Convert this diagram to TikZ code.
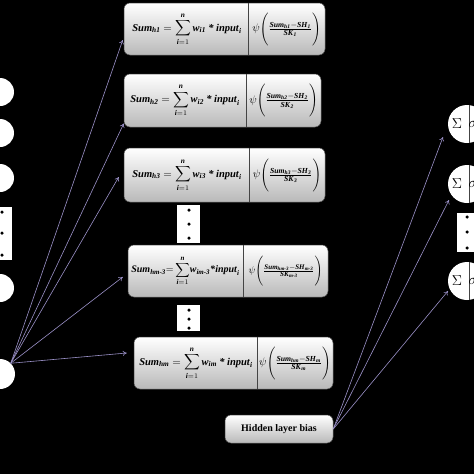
\documentclass[tikz,border=0pt]{standalone}
\usepackage{amsmath}
\usepackage{fontspec}
\setmainfont{Liberation Serif}
\usetikzlibrary{arrows.meta}
\newcommand{\bi}[1]{\textbf{\textit{#1}}}
\newcommand{\lformula}[2]{$\displaystyle\bi{Sum}_{\bi{#1}}=\sum_{\bi{i}=1}^{\bi{n}}\bi{w}_{\bi{#2}}\mathbin{\bi{*}}\bi{input}_{\bi{i}}$}
\newcommand{\lformulatight}[2]{$\displaystyle\bi{Sum}_{\bi{#1}}{=}\sum_{\bi{i}=1}^{\bi{n}}\!\bi{w}_{\bi{#2}}{\bi{*}}\bi{input}_{\bi{i}}$}
\newcommand{\rformula}[3]{$\psi\Biggl(\frac{\bi{Sum}_{\bi{#1}}-\bi{SH}_{\bi{#2}}}{\bi{SK}_{\bi{#3}}}\Biggr)$}
\definecolor{arrowcol}{RGB}{155,145,200}
\definecolor{boxedge}{RGB}{85,85,85}
\definecolor{boxbottom}{RGB}{185,185,185}
\tikzset{
  sbox/.style={rectangle, rounded corners=6pt, draw=boxedge, line width=0.5pt,
    top color=white, bottom color=boxbottom, inner sep=0pt},
  divline/.style={draw=boxedge!80!black, line width=0.7pt},
  formula/.style={inner sep=0pt, font=\fontsize{10.5}{12.5}\selectfont},
  rform/.style={inner sep=0pt, font=\fontsize{11}{13}\selectfont},
  inputnode/.style={circle, fill=white, minimum size=28pt, inner sep=0pt},
  outnode/.style={circle, fill=white, minimum size=38pt, inner sep=0pt},
  dotbox/.style={rectangle, fill=white, inner sep=0pt},
  blackdot/.style={circle, fill=black, minimum size=3.5pt, inner sep=0pt},
  conn/.style={draw=arrowcol, line width=0.6pt, -{To[length=4pt,width=5pt]}},
}
\begin{document}
\begin{tikzpicture}[x=1pt,y=-1pt]
\useasboundingbox (0,0) rectangle (474,474);
\fill[black] (0,0) rectangle (474,474);
\clip (0,0) rectangle (474,474);

% input layer
\node[inputnode] (in1) at (0,92) {};
\node[inputnode] (in2) at (0,133) {};
\node[inputnode] (in3) at (0,178) {};
\node[dotbox, minimum width=16pt, minimum height=53pt] (ind) at (4,233.5) {};
\node[blackdot] (ind1) at (2,212) {};
\node[blackdot] (ind2) at (2,233) {};
\node[blackdot] (ind3) at (2,255) {};
\node[inputnode] (in4) at (0,288) {};
\node[inputnode, minimum size=30pt] (in5) at (0,374) {};

% hidden boxes
\node[sbox, minimum width=201pt, minimum height=52pt] (b1) at (224.5,29) {};
\draw[divline] (248,3) -- (248,55);
\node[formula] (b1l) at (187,29) {\lformula{h1}{i1}};
\node[rform] (b1r) at (286.5,29) {\rformula{h1}{1}{1}};

\node[sbox, minimum width=197pt, minimum height=53pt] (b2) at (222.5,100.5) {};
\draw[divline] (246,74) -- (246,127);
\node[formula] (b2l) at (185,100.5) {\lformula{h2}{i2}};
\node[rform] (b2r) at (283.5,100.5) {\rformula{h2}{2}{2}};

\node[sbox, minimum width=201pt, minimum height=54pt] (b3) at (224.5,175) {};
\draw[divline] (249,148) -- (249,202);
\node[formula] (b3l) at (187,175) {\lformula{h3}{i3}};
\node[rform] (b3r) at (287,175) {\rformula{h3}{3}{3}};

\node[dotbox, minimum width=23pt, minimum height=38pt] (hd1) at (188.5,224) {};
\node[blackdot] (hd1a) at (189,210) {};
\node[blackdot] (hd1b) at (189,224) {};
\node[blackdot] (hd1c) at (189,238) {};

\node[sbox, minimum width=200pt, minimum height=52pt] (b4) at (228,271) {};
\draw[divline] (243,245) -- (243,297);
\node[formula, font=\fontsize{10}{12}\selectfont] (b4l) at (185.5,271) {\lformulatight{hm{-}3}{im{-}3}};
\node[rform, font=\fontsize{10}{12}\selectfont] (b4r) at (285.5,271) {\rformula{hm{-}3}{m{-}3}{m{-}3}};

\node[dotbox, minimum width=23pt, minimum height=26pt] (hd2) at (188.5,318) {};
\node[blackdot] (hd2a) at (189,310) {};
\node[blackdot] (hd2b) at (189,319) {};
\node[blackdot] (hd2c) at (189,328) {};

\node[sbox, minimum width=199pt, minimum height=52pt] (b5) at (233.5,363) {};
\draw[divline] (257,337) -- (257,389);
\node[formula] (b5l) at (196,363) {\lformula{hm}{im}};
\node[rform] (b5r) at (295,363) {\rformula{hm}{m}{m}};

\node[sbox, minimum width=108pt, minimum height=28pt, font=\fontsize{10}{12}\selectfont\bfseries] (bias) at (279,429) {Hidden layer bias};

% output layer
\node[outnode] (o1) at (467,124) {};
\node[outnode] (o2) at (467,184) {};
\node[dotbox, minimum width=20pt, minimum height=39pt] (od) at (467,232.5) {};
\node[blackdot] (od1) at (467,217) {};
\node[blackdot] (od2) at (467,232) {};
\node[blackdot] (od3) at (467,248) {};
\node[outnode] (o3) at (467,281) {};
\foreach \o in {o1,o2,o3}{
  \draw[divline] ([xshift=2pt]\o.north) -- ([xshift=2pt]\o.south);
  \node[font=\fontsize{14}{16}\selectfont, inner sep=0pt] at ([xshift=-10pt]\o.center) {$\Sigma$};
  \node[font=\fontsize{14}{16}\selectfont, inner sep=0pt] at ([xshift=6pt]\o.center) {$\sigma$};
}

% connectors
\draw[conn] (in5.north east) -- ([xshift=-1pt,yshift=-11pt]b1.west);
\draw[conn] (in5.north east) -- ([yshift=-23pt]b2.west);
\draw[conn] (in5.north east) -- ([xshift=-5pt,yshift=-2pt]b3.west);
\draw[conn] (in5.north east) -- ([xshift=-5pt,yshift=-6pt]b4.west);
\draw[conn] (in5.north east) -- ([xshift=-7pt,yshift=10pt]b5.west);

\draw[conn] (bias.east) -- ([xshift=-24pt,yshift=-13pt]o1.center);
\draw[conn] (bias.east) -- ([xshift=-18pt,yshift=-16pt]o2.center);
\draw[conn] (bias.east) -- ([xshift=-19pt,yshift=-10pt]o3.center);
\end{tikzpicture}
\end{document}
